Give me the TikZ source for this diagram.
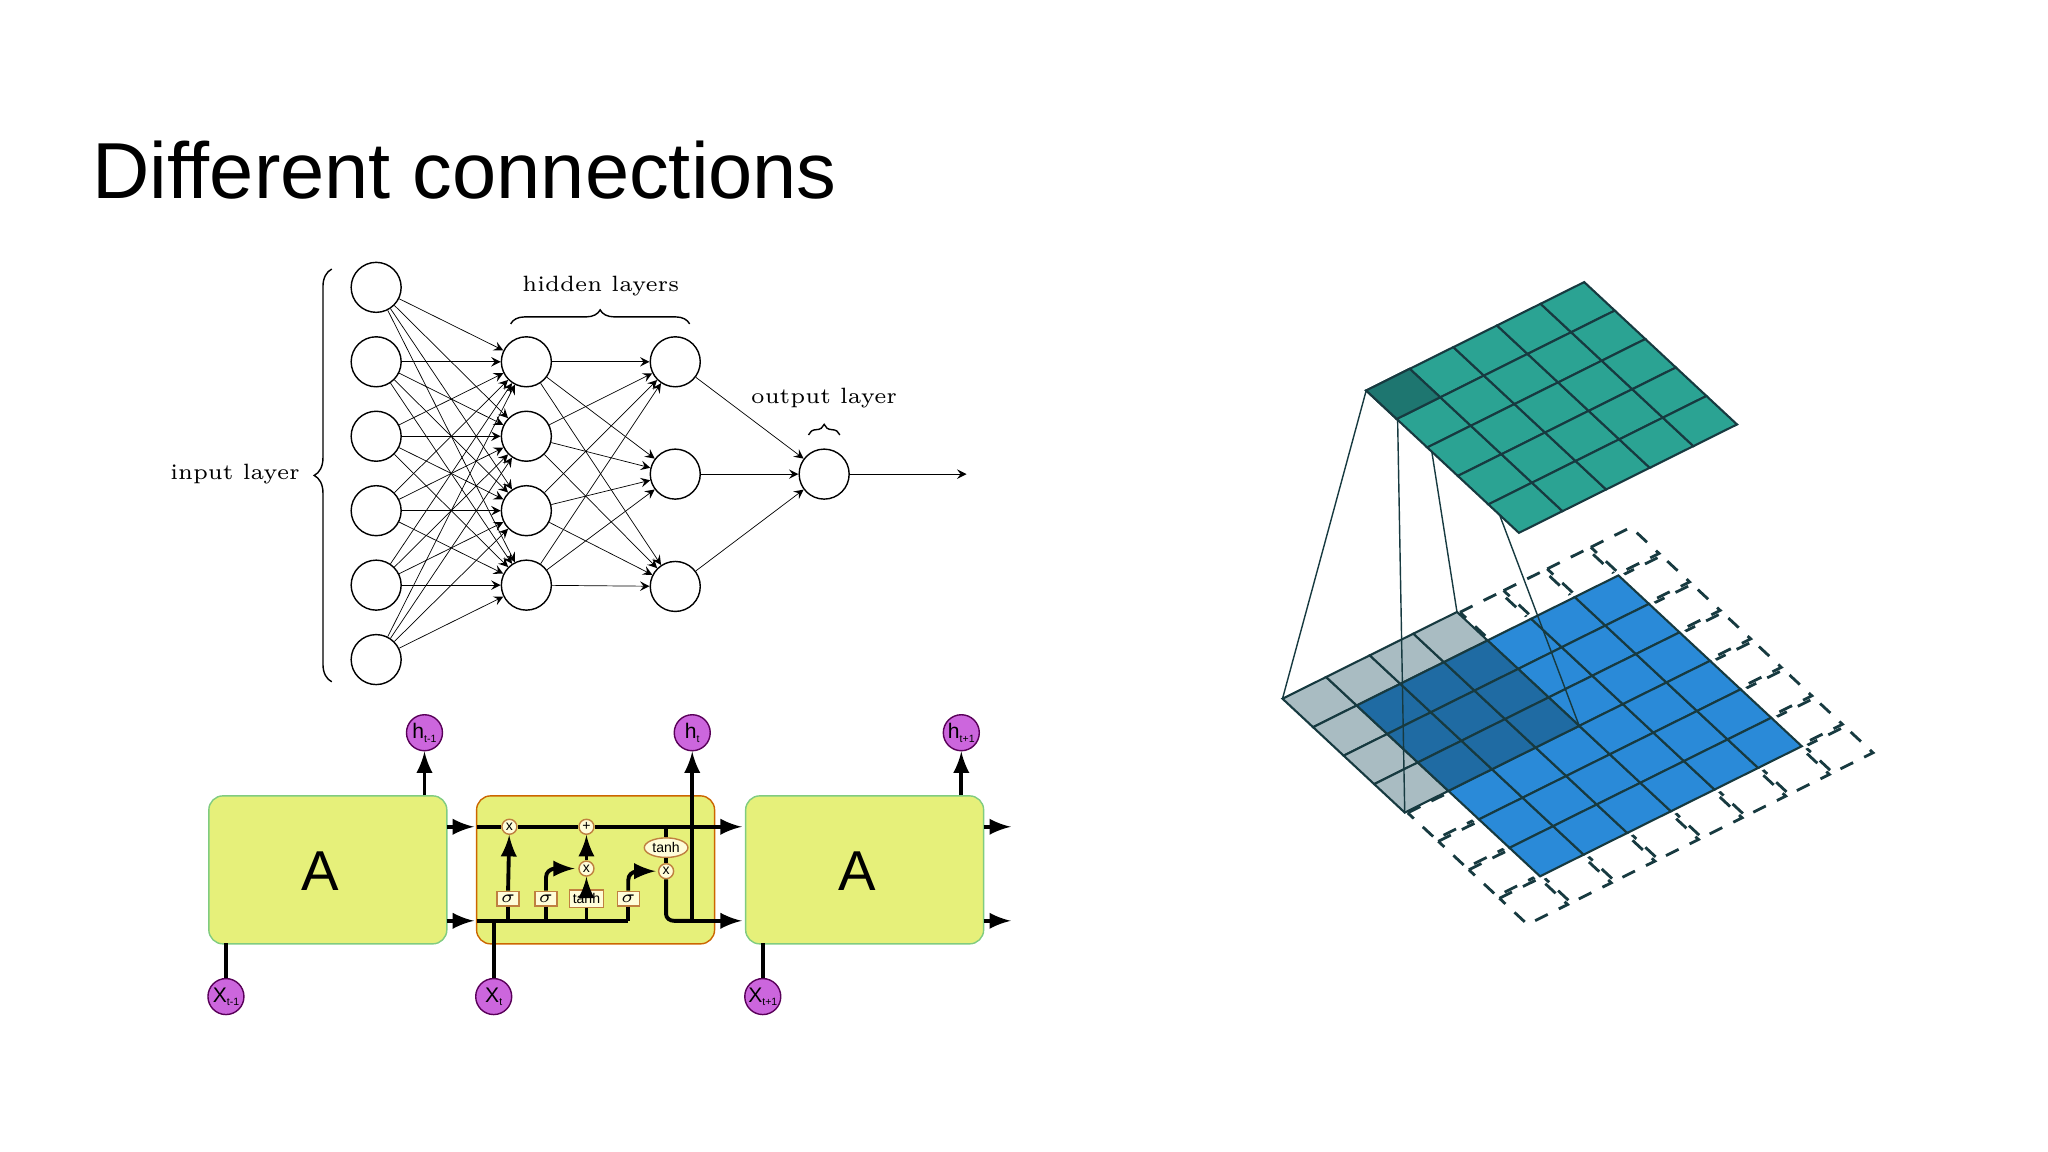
\documentclass[tikz,border=0pt]{standalone}
\usepackage{fontspec}
\newfontfamily\sansf{Liberation Sans}
\usetikzlibrary{decorations.pathreplacing,shapes.geometric}
\definecolor{lstmfill}{HTML}{E6F07A}
\definecolor{teal1}{HTML}{2BA393}
\definecolor{teal2}{HTML}{1E7670}
\definecolor{blue1}{HTML}{2A8AD8}
\definecolor{blue2}{HTML}{1F6BA3}
\definecolor{kgray}{HTML}{A9BCC2}
\definecolor{gline}{HTML}{173A40}
\definecolor{hcirc}{HTML}{CC66DD}
\tikzset{
  neuron/.style={circle, draw, thin, fill=white, minimum size=0.5cm, inner sep=0pt},
  syn/.style={->, >=stealth, very thin},
  lbl/.style={font=\fontsize{6.3}{7}\selectfont},
  cellbox/.style={rounded corners=4pt, fill=lstmfill, minimum width=2.38cm, minimum height=1.48cm},
  io/.style={circle, draw=violet!70!black, fill=hcirc, minimum size=0.36cm, inner sep=0pt, font=\sansf\fontsize{6}{6}\selectfont},
  flow/.style={->, >=latex, line width=1.1pt},
  gate/.style={draw=brown, fill=yellow!15, inner sep=1pt, font=\sansf\fontsize{4}{4}\selectfont},
  op/.style={circle, draw=brown, fill=yellow!15, inner sep=0pt, minimum size=0.15cm, font=\sansf\fontsize{4}{4}\selectfont},
  cell/.style={draw=gline, line width=0.6pt},
  grid/.style={x={(0.4362cm,0.2168cm)}, y={(0.3056cm,-0.2847cm)}}
}
\newcommand\sq[3]{\draw[cell, fill=#3] (#1,#2) -- ++(1,0) -- ++(0,1) -- ++(-1,0) -- cycle;}
\begin{document}
\begin{tikzpicture}[x=0.01306cm, y=-0.01306cm]
\useasboundingbox (0,0) rectangle (1568,882);

% title
\node[anchor=base west, inner sep=0pt, font=\sansf\fontsize{22.6}{28}\selectfont] (title) at (70,152) {Different connections};

% feed-forward net
\foreach \i/\y in {1/220, 2/277, 3/334, 4/391, 5/448, 6/505}
  \node[neuron] (in\i) at (288,\y) {};
\foreach \i/\y in {1/277, 2/334, 3/391, 4/448}
  \node[neuron] (hA\i) at (403,\y) {};
\foreach \i/\y in {1/277, 2/363, 3/449}
  \node[neuron] (hB\i) at (517,\y) {};
\node[neuron] (out) at (631,363) {};
\coordinate (outend) at (740,363);

\foreach \i in {1,...,6}
  \foreach \j in {1,...,4}
    \draw[syn] (in\i) -- (hA\j);
\foreach \i in {1,...,4}
  \foreach \j in {1,...,3}
    \draw[syn] (hA\i) -- (hB\j);
\foreach \i in {1,...,3}
  \draw[syn] (hB\i) -- (out);
\draw[syn] (out) -- (outend);

\draw[decorate, decoration={brace, amplitude=5pt}, thin] (254,522) -- (254,206);
\node[lbl, anchor=east] (inlbl) at (239,363) {input layer};
\draw[decorate, decoration={brace, amplitude=4pt}, thin] (391,248) -- (528,248);
\node[lbl] (hidlbl) at (460,219) {hidden layers};
\draw[decorate, decoration={brace, amplitude=3pt}, thin] (619,333) -- (643,333);
\node[lbl] (outlbl) at (631,305) {output layer};

% LSTM chain
\node[cellbox, draw=green!60!black!50] (boxA) at (251,666) {};
\node[cellbox, draw=orange!80!black] (boxB) at (456,666) {};
\node[cellbox, draw=green!60!black!50] (boxC) at (662,666) {};
\node[font=\sansf\fontsize{16}{16}\selectfont] (lblA) at (245,667) {A};
\node[font=\sansf\fontsize{16}{16}\selectfont] (lblC) at (656,667) {A};

\node[io] (h1) at (325,561) {h\raisebox{-1pt}{\fontsize{3}{3}\selectfont t-1}};
\node[io] (h2) at (530,561) {h\raisebox{-1pt}{\fontsize{3}{3}\selectfont t}};
\node[io] (h3) at (736,561) {h\raisebox{-1pt}{\fontsize{3}{3}\selectfont t+1}};
\node[io] (x1) at (173,763) {X\raisebox{-1pt}{\fontsize{3}{3}\selectfont t-1}};
\node[io] (x2) at (378,763) {X\raisebox{-1pt}{\fontsize{3}{3}\selectfont t}};
\node[io] (x3) at (584,763) {X\raisebox{-1pt}{\fontsize{3}{3}\selectfont t+1}};

\draw[flow] (325,609) -- (h1);
\draw[flow] (736,609) -- (h3);
\draw[line width=1.1pt] (x1) -- (173,722);
\draw[line width=1.1pt] (x3) -- (584,722);

\foreach \xa/\xb in {342/363, 753/774}
{
  \draw[flow] (\xa,633) -- (\xb,633);
  \draw[flow] (\xa,705) -- (\xb,705);
}

% inside the middle cell
\node[op] (m1) at (390,633) {x};
\node[op] (p1) at (449,633) {+};
\node[op] (m2) at (449,665) {x};
\node[op] (m3) at (510,667) {x};
\node[ellipse, draw=brown, fill=yellow!15, inner sep=0.5pt, font=\sansf\fontsize{4}{4}\selectfont] (th) at (510,649) {tanh};
\node[gate] (g1) at (389,688) {$\sigma$};
\node[gate] (g2) at (418,688) {$\sigma$};
\node[gate] (g3) at (449,688) {tanh};
\node[gate] (g4) at (481,688) {$\sigma$};

\draw[line width=1.1pt] (365,633) -- (m1) -- (p1);
\draw[flow] (p1) -- (568,633);
\draw[line width=1.1pt] (510,633) -- (th) -- (m3);
\draw[line width=1.1pt] (365,705) -- (481,705);
\draw[line width=1.1pt] (x2) -- (378,705);
\draw[flow] (g1.north) -- (m1);
\draw[flow] (g3.north) -- (m2);
\draw[flow] (m2) -- (p1);
\draw[flow] (g2.north) -- (418,672) to[out=90,in=180] (440,665);
\draw[flow] (g4.north) -- (481,674) to[out=90,in=180] (502,667);
\foreach \g in {g1,g2,g3,g4}
  \draw[line width=1.1pt] (\g.south) -- (\g |- 0,705);
\draw[line width=1.1pt] (m3) -- (510,700) to[out=-90,in=180] (516,705) -- (530,705);
\draw[flow] (530,705) -- (568,705);
\draw[flow] (530,705) -- (h2);

% convolution: padded input, kernel, output
\begin{scope}[grid, shift={(12.825cm,-6.987cm)}]
  \foreach \i in {0,...,7}
    \foreach \j in {0,...,7}
      \draw[gline, line width=0.8pt, dash pattern=on 4pt off 3.5pt] (\i+0.04,\j+0.04) -- (\i+0.96,\j+0.04) -- (\i+0.96,\j+0.96) -- (\i+0.04,\j+0.96) -- cycle;
  \fill[white] (0.9,0.9) -- (7.1,0.9) -- (7.1,7.1) -- (0.9,7.1) -- cycle;
  \foreach \i in {1,...,6}
    \foreach \j in {1,...,6}
      {\sq{\i}{\j}{blue1}}
  \foreach \i in {0,...,3}
    \foreach \j in {0,...,3}
    {
      \ifnum\i>0 \ifnum\j>0
        \sq{\i}{\j}{blue2}
      \else
        \sq{\i}{\j}{kgray}
      \fi \else
        \sq{\i}{\j}{kgray}
      \fi
    }
  \coordinate (k00) at (0,0);
  \coordinate (k04) at (0,4);
  \coordinate (k40) at (4,0);
  \coordinate (k44) at (4,4);
\end{scope}

\coordinate (t0) at (1046,299);
\coordinate (t1) at (1070,318);
\coordinate (t2) at (1095,338);
\coordinate (t3) at (1142,378);
\draw[gline, thin] (k00) -- (t0);
\draw[gline, thin] (k04) -- (t1);
\draw[gline, thin] (k40) -- (t2);
\draw[gline, thin] (k44) -- (t3);

\begin{scope}[grid, shift={(13.661cm,-3.905cm)}]
  \foreach \i in {0,...,4}
    \foreach \j in {0,...,4}
      {\sq{\i}{\j}{teal1}}
  \sq{0}{0}{teal2}
\end{scope}
\end{tikzpicture}
\end{document}
